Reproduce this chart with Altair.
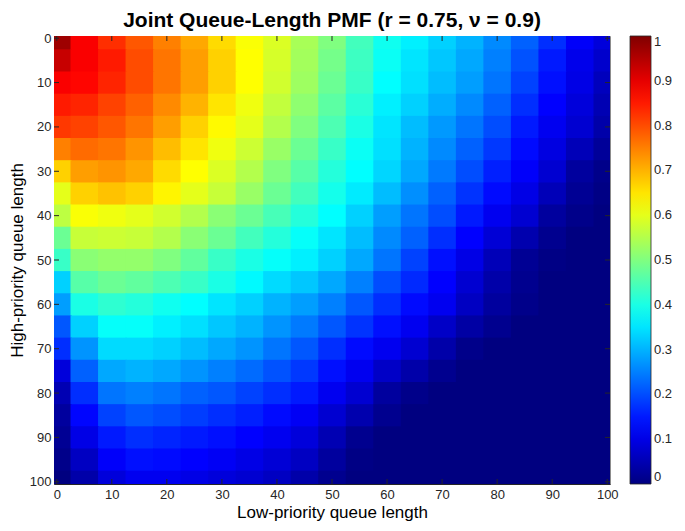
import altair as alt
import pandas as pd

low_priority = [0, 5, 10, 15, 20, 25, 30, 35, 40, 45, 50, 55, 60, 65, 70, 75, 80, 85, 90, 95, 100]
high_priority = [0, 5, 10, 15, 20, 25, 30, 35, 40, 45, 50, 55, 60, 65, 70, 75, 80, 85, 90, 95, 100]

# normalised PMF, one row per high-priority length (top to bottom)
pmf_h0 = [0.97, 0.88, 0.83, 0.79, 0.75, 0.71, 0.66, 0.62, 0.59, 0.54, 0.50, 0.44, 0.39, 0.36, 0.33, 0.30, 0.26, 0.22, 0.17, 0.12, 0.09]
pmf_h5 = [0.93, 0.88, 0.85, 0.80, 0.76, 0.72, 0.67, 0.625, 0.585, 0.535, 0.49, 0.435, 0.385, 0.35, 0.32, 0.29, 0.25, 0.205, 0.15, 0.105, 0.075]
pmf_h10 = [0.88, 0.87, 0.84, 0.80, 0.76, 0.72, 0.67, 0.625, 0.58, 0.53, 0.48, 0.43, 0.375, 0.345, 0.31, 0.28, 0.24, 0.19, 0.14, 0.10, 0.06]
pmf_h15 = [0.85, 0.84, 0.81, 0.78, 0.74, 0.70, 0.65, 0.61, 0.565, 0.515, 0.465, 0.415, 0.36, 0.33, 0.295, 0.26, 0.22, 0.17, 0.125, 0.09, 0.05]
pmf_h20 = [0.82, 0.81, 0.79, 0.76, 0.72, 0.67, 0.63, 0.60, 0.55, 0.50, 0.45, 0.40, 0.35, 0.31, 0.275, 0.24, 0.20, 0.15, 0.11, 0.08, 0.04]
pmf_h25 = [0.75, 0.77, 0.76, 0.73, 0.69, 0.65, 0.61, 0.575, 0.525, 0.48, 0.43, 0.385, 0.345, 0.30, 0.26, 0.22, 0.18, 0.135, 0.095, 0.055, 0.025]
pmf_h30 = [0.67, 0.72, 0.73, 0.71, 0.66, 0.625, 0.59, 0.55, 0.50, 0.46, 0.41, 0.375, 0.335, 0.29, 0.245, 0.20, 0.155, 0.12, 0.08, 0.03, 0.01]
pmf_h35 = [0.60, 0.67, 0.685, 0.67, 0.635, 0.60, 0.57, 0.525, 0.48, 0.44, 0.395, 0.355, 0.31, 0.265, 0.22, 0.175, 0.135, 0.10, 0.055, 0.02, 0.005]
pmf_h40 = [0.56, 0.62, 0.61, 0.60, 0.58, 0.55, 0.51, 0.48, 0.445, 0.41, 0.375, 0.33, 0.28, 0.24, 0.20, 0.15, 0.11, 0.08, 0.03, 0.01, 0.0]
pmf_h45 = [0.48, 0.57, 0.575, 0.57, 0.55, 0.51, 0.48, 0.44, 0.41, 0.38, 0.35, 0.31, 0.26, 0.22, 0.17, 0.125, 0.085, 0.045, 0.015, 0.0, 0.0]
pmf_h50 = [0.43, 0.51, 0.52, 0.52, 0.50, 0.47, 0.43, 0.40, 0.38, 0.36, 0.33, 0.29, 0.24, 0.19, 0.14, 0.10, 0.055, 0.02, 0.005, 0.0, 0.0]
pmf_h55 = [0.33, 0.46, 0.48, 0.47, 0.45, 0.43, 0.40, 0.37, 0.34, 0.32, 0.29, 0.25, 0.20, 0.165, 0.125, 0.08, 0.04, 0.015, 0.0, 0.0, 0.0]
pmf_h60 = [0.28, 0.40, 0.42, 0.41, 0.39, 0.375, 0.35, 0.33, 0.30, 0.28, 0.25, 0.21, 0.17, 0.135, 0.11, 0.065, 0.03, 0.01, 0.0, 0.0, 0.0]
pmf_h65 = [0.21, 0.33, 0.38, 0.38, 0.36, 0.345, 0.32, 0.30, 0.27, 0.245, 0.21, 0.175, 0.14, 0.11, 0.07, 0.035, 0.015, 0.0, 0.0, 0.0, 0.0]
pmf_h70 = [0.17, 0.27, 0.34, 0.34, 0.33, 0.31, 0.29, 0.27, 0.24, 0.21, 0.17, 0.135, 0.11, 0.08, 0.04, 0.01, 0.0, 0.0, 0.0, 0.0, 0.0]
pmf_h75 = [0.09, 0.22, 0.29, 0.30, 0.29, 0.27, 0.25, 0.23, 0.205, 0.18, 0.14, 0.11, 0.07, 0.04, 0.015, 0.0, 0.0, 0.0, 0.0, 0.0, 0.0]
pmf_h80 = [0.05, 0.17, 0.24, 0.25, 0.24, 0.22, 0.21, 0.19, 0.17, 0.15, 0.11, 0.08, 0.03, 0.01, 0.0, 0.0, 0.0, 0.0, 0.0, 0.0, 0.0]
pmf_h85 = [0.03, 0.13, 0.19, 0.21, 0.20, 0.185, 0.17, 0.155, 0.135, 0.115, 0.08, 0.045, 0.015, 0.0, 0.0, 0.0, 0.0, 0.0, 0.0, 0.0, 0.0]
pmf_h90 = [0.02, 0.10, 0.15, 0.17, 0.16, 0.15, 0.14, 0.125, 0.11, 0.09, 0.05, 0.015, 0.0, 0.0, 0.0, 0.0, 0.0, 0.0, 0.0, 0.0, 0.0]
pmf_h95 = [0.01, 0.065, 0.12, 0.14, 0.135, 0.125, 0.115, 0.10, 0.085, 0.065, 0.03, 0.005, 0.0, 0.0, 0.0, 0.0, 0.0, 0.0, 0.0, 0.0, 0.0]
pmf_h100 = [0.0, 0.04, 0.09, 0.11, 0.11, 0.10, 0.09, 0.08, 0.065, 0.04, 0.015, 0.0, 0.0, 0.0, 0.0, 0.0, 0.0, 0.0, 0.0, 0.0, 0.0]

pmf_rows = [pmf_h0, pmf_h5, pmf_h10, pmf_h15, pmf_h20, pmf_h25, pmf_h30, pmf_h35, pmf_h40,
            pmf_h45, pmf_h50, pmf_h55, pmf_h60, pmf_h65, pmf_h70, pmf_h75, pmf_h80, pmf_h85,
            pmf_h90, pmf_h95, pmf_h100]

axis_ticks = [0, 10, 20, 30, 40, 50, 60, 70, 80, 90, 100]
colorbar_ticks = [0, 0.1, 0.2, 0.3, 0.4, 0.5, 0.6, 0.7, 0.8, 0.9, 1]

# jet colour map stops
jet_domain = [0, 0.125, 0.375, 0.625, 0.875, 1]
jet_colors = ["#000080", "#0000ff", "#00ffff", "#ffff00", "#ff0000", "#800000"]

LO, HI = -0.5, 100.5
half = 2.5
overlap = 0.2  # tiny overlap between neighbouring cells to hide anti-aliasing seams
records = []
for i, hp in enumerate(high_priority):
    for j, lp in enumerate(low_priority):
        records.append({
            "lp": lp, "hp": hp, "pmf": pmf_rows[i][j],
            "x0": max(lp - half, LO), "x1": min(lp + half + overlap, HI),
            "y0": max(hp - half, LO), "y1": min(hp + half + overlap, HI),
        })
df = pd.DataFrame(records)
ticks_df = pd.DataFrame({"t": axis_ticks})

W, H = 556, 448
FONT = "Liberation Sans"
AX = "#262626"

xs = alt.Scale(domain=[LO, HI], nice=False, zero=False)
ys = alt.Scale(domain=[LO, HI], nice=False, zero=False, reverse=True)
cs = alt.Scale(domain=jet_domain, range=jet_colors, interpolate="rgb", type="linear")

x_axis = alt.Axis(values=axis_ticks, title="Low-priority queue length", tickSize=0,
                  labelPadding=4, titlePadding=3, grid=False)
y_axis = alt.Axis(values=axis_ticks, title="High-priority queue length", tickSize=0,
                  labelPadding=3, titlePadding=3, grid=False)

heat = alt.Chart(df).mark_rect().encode(
    x=alt.X("x0:Q", scale=xs, axis=x_axis),
    x2="x1:Q",
    y=alt.Y("y0:Q", scale=ys, axis=y_axis),
    y2="y1:Q",
    color=alt.Color("pmf:Q", scale=cs, legend=alt.Legend(
        type="gradient", direction="vertical",
        title=None, values=colorbar_ticks, format=".1~f", gradientLength=H,
        gradientThickness=21, offset=20, labelOffset=3, labelFontSize=13,
        labelFont=FONT, labelColor=AX, labelBaseline="middle", labelOverlap=False,
        padding=0, gradientStrokeColor=AX, gradientStrokeWidth=0.8)),
)

tick_len = 5
top_ticks = alt.Chart(ticks_df).mark_rule(color=AX, strokeWidth=1).encode(
    x=alt.X("t:Q", scale=xs), y=alt.value(0), y2=alt.value(tick_len))
bottom_ticks = alt.Chart(ticks_df).mark_rule(color=AX, strokeWidth=1).encode(
    x=alt.X("t:Q", scale=xs), y=alt.value("height"),
    y2=alt.value({"expr": f"height - {tick_len}"}))
left_ticks = alt.Chart(ticks_df).mark_rule(color=AX, strokeWidth=1).encode(
    y=alt.Y("t:Q", scale=ys), x=alt.value(0), x2=alt.value(tick_len))
right_ticks = alt.Chart(ticks_df).mark_rule(color=AX, strokeWidth=1).encode(
    y=alt.Y("t:Q", scale=ys), x=alt.value("width"),
    x2=alt.value({"expr": f"width - {tick_len}"}))

chart = alt.layer(heat, top_ticks, bottom_ticks, left_ticks, right_ticks).properties(
    width=W, height=H,
    padding={"left": 0, "top": 2, "right": 0, "bottom": 2},
    title=alt.TitleParams(text="Joint Queue-Length PMF (r = 0.75, ν = 0.9)", font=FONT,
                          fontSize=21, fontWeight="bold", color="black", offset=1,
                          anchor="middle"),
).configure_view(stroke="#8c8c8c", strokeWidth=1).configure_axis(
    labelFont=FONT, titleFont=FONT, labelFontSize=13, titleFontSize=17,
    labelColor=AX, titleColor="black", titleFontWeight="normal",
    domainColor=AX, domainWidth=1,
)

chart.save("out.html", embed_options={"renderer": "svg", "actions": False})
